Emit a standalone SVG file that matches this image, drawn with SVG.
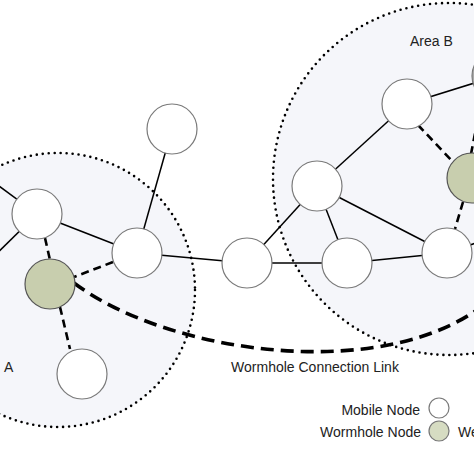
<svg xmlns="http://www.w3.org/2000/svg" width="474" height="474" viewBox="0 0 474 474">
<style>
.area{fill:#f5f6fa;stroke:#000;stroke-width:2.6;stroke-dasharray:0 6;stroke-linecap:round}
.node{fill:#fff;stroke:#7a7a7a;stroke-width:1.2}
.worm{fill:#c8ceae;stroke:#555;stroke-width:1.2}
.gray{fill:#aaa;stroke:#777;stroke-width:1.2}
.solid{stroke:#000;stroke-width:1.5;fill:none}
.dash{stroke:#000;stroke-width:2.6;stroke-dasharray:8 5;fill:none}
.big{stroke:#000;stroke-width:3.6;stroke-dasharray:13 7;fill:none}
text{font-family:"Liberation Sans",Arial,sans-serif;font-size:14px;fill:#222}
</style>
<rect width="474" height="474" fill="#fff"/>
<g id="areas">
<circle id="areaA" class="area" cx="58" cy="290" r="137"/>
<circle id="areaB" class="area" cx="449" cy="179" r="176"/>
</g>
<g id="connectors">
<line class="solid" x1="-20" y1="172" x2="37" y2="214"/>
<line class="solid" x1="-20" y1="270" x2="37" y2="214"/>
<line class="solid" x1="37" y1="214" x2="137" y2="253"/>
<line class="solid" x1="172" y1="129" x2="137" y2="253"/>
<line class="solid" x1="137" y1="253" x2="247" y2="263"/>
<line class="solid" x1="247" y1="263" x2="317" y2="186"/>
<line class="solid" x1="247" y1="263" x2="347" y2="263"/>
<line class="solid" x1="347" y1="263" x2="447" y2="253"/>
<line class="solid" x1="317" y1="186" x2="347" y2="263"/>
<line class="solid" x1="317" y1="186" x2="447" y2="253"/>
<line class="solid" x1="317" y1="186" x2="407" y2="104"/>
<line class="solid" x1="407" y1="104" x2="497" y2="76"/>
<line class="solid" x1="447" y1="253" x2="490" y2="238"/>
<line class="dash" x1="45" y1="238" x2="50" y2="260"/>
<line class="dash" x1="113" y1="262" x2="74" y2="277"/>
<line class="dash" x1="60" y1="307" x2="70" y2="349"/>
<line class="dash" x1="418" y1="125" x2="453" y2="162"/>
<line class="dash" x1="463" y1="202" x2="455" y2="229"/>
<line class="dash" x1="471" y1="154" x2="478" y2="118"/>
<path class="big" d="M74 283 C170 355 390 385 490 300"/>
</g>
<g id="n-top"><circle class="node" cx="172" cy="129" r="25"/></g>
<g id="n-a1"><circle class="node" cx="37" cy="214" r="25"/></g>
<g id="n-a2"><circle class="node" cx="137" cy="253" r="25"/></g>
<g id="n-wa"><circle class="worm" cx="50" cy="284" r="25"/></g>
<g id="n-a3"><circle class="node" cx="82" cy="374" r="25"/></g>
<g id="n-c"><circle class="node" cx="247" cy="263" r="25"/></g>
<g id="n-b1"><circle class="node" cx="317" cy="186" r="25"/></g>
<g id="n-b2"><circle class="node" cx="347" cy="263" r="25"/></g>
<g id="n-b3"><circle class="node" cx="447" cy="253" r="25"/></g>
<g id="n-b4"><circle class="node" cx="407" cy="104" r="25"/></g>
<g id="n-wb"><circle class="worm" cx="472" cy="178" r="25"/></g>
<g id="n-gray"><circle class="gray" cx="497" cy="76" r="25"/></g>
<g id="labels">
<text x="410" y="46">Area B</text>
<text x="4" y="372">A</text>
<text x="315" y="372" text-anchor="middle">Wormhole Connection Link</text>
</g>
<g id="legend">
<text x="420" y="415" text-anchor="end">Mobile Node</text>
<circle class="node" cx="439" cy="408" r="10"/>
<text x="421" y="437" text-anchor="end">Wormhole Node</text>
<circle class="worm" cx="439" cy="431" r="10" style="fill:#d6dcc2;stroke:#777"/>
<text x="458" y="437">We</text>
</g>
</svg>
